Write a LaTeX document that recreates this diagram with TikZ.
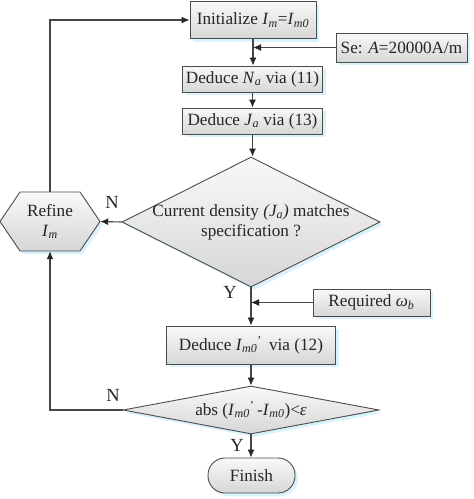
\documentclass[tikz,border=0pt]{standalone}
\usepackage{fontspec}
\setmainfont{Liberation Serif}
\usetikzlibrary{arrows.meta,shadows,shapes.geometric}
\newcommand{\vsb}[2]{\textit{#1}\textsubscript{\textit{#2}}}
\begin{document}
\begin{tikzpicture}[x=1pt,y=-1pt,
  every node/.style={font=\fontsize{17.2}{20}\selectfont, text=black!85},
  box/.style={draw=gray!60!black, line width=0.9pt, top color=gray!5, bottom color=gray!32,
    drop shadow={shadow xshift=3pt, shadow yshift=-3pt, fill=cyan!15, opacity=1}, inner sep=0pt},
  rbox/.style={box, rectangle},
  dia/.style={box, diamond},
  conn/.style={draw=gray!55!black, line width=1.1pt},
  arr/.style={conn, -{Latex[length=8pt,width=7pt,color=black!85]}},
  lbl/.style={font=\fontsize{18.5}{20}\selectfont, text=black!85}]
\useasboundingbox (0,0) rectangle (474,499);

% boxes
\node[rbox, minimum width=126, minimum height=37] (init) at (253,20) {Initialize \vsb{I}{m}=\vsb{I}{m0}};
\node[rbox, minimum width=131, minimum height=29] (seta) at (401.5,47.5) {Se: \textit{A}=20000A/m};
\node[rbox, minimum width=140, minimum height=26] (na) at (252.5,79) {Deduce \vsb{N}{a} via (11)};
\node[rbox, minimum width=140, minimum height=26] (ja) at (252.5,121) {Deduce \vsb{J}{a} via (13)};
\node[dia, minimum width=258, minimum height=130] (d1) at (251,222) {};
\node[align=center] (d1t) at (251,222) {Current density \textit{(J\textsubscript{a})} matches\\specification ?};
\path[box] (0,221.5) -- (20,192) -- (80,192) -- (100,221.5) -- (80,251) -- (20,251) -- cycle;
\node[align=center, minimum width=100, minimum height=59, inner sep=0pt] (hex) at (50,221.5) {Refine\\\vsb{I}{m}};
\node[rbox, minimum width=117, minimum height=27] (req) at (371.5,302.5) {Required \vsb{ω}{b}};
\node[rbox, minimum width=169, minimum height=38] (im) at (251,345) {Deduce \vsb{I}{m0}\textsuperscript{'}\, via (12)};
\node[dia, minimum width=256, minimum height=48] (d2) at (251,410) {};
\node (d2t) at (251,410) {abs (\vsb{I}{m0}\textsuperscript{'}\,-\vsb{I}{m0})<\textit{ε}};
\node[box, rectangle, rounded corners=17, minimum width=87, minimum height=35] (fin) at (251.5,475.5) {Finish};

% labels
\node[lbl] (n1) at (112,202) {N};
\node[lbl] (y1) at (230,292) {Y};
\node[lbl] (n2) at (113,395) {N};
\node[lbl] (y2) at (237,445) {Y};

% connectors
\coordinate (ja1) at (init.south |- seta.west);
\coordinate (jr1) at (im.north |- req.west);
\coordinate (c2) at (hex.south |- d2.west);
\draw[arr] (init.south) -- (init.south |- na.north);
\draw[arr] (seta.west) -- (ja1);
\draw[arr] (na.south) -- (na.south |- ja.north);
\draw[arr] (ja.south) -- (ja.south |- d1.north);
\draw[arr] (d1.west) -- (hex.east);
\draw[arr] (hex.north) |- (init.west);
\draw[arr] (d1.south) -- (d1.south |- im.north);
\draw[arr] (req.west) -- (jr1);
\draw[arr] (im.south) -- (im.south |- d2.north);
\draw[arr] (d2.west) -- (c2) -- (hex.south);
\draw[arr] (d2.south) -- (d2.south |- fin.north);
\end{tikzpicture}
\end{document}
